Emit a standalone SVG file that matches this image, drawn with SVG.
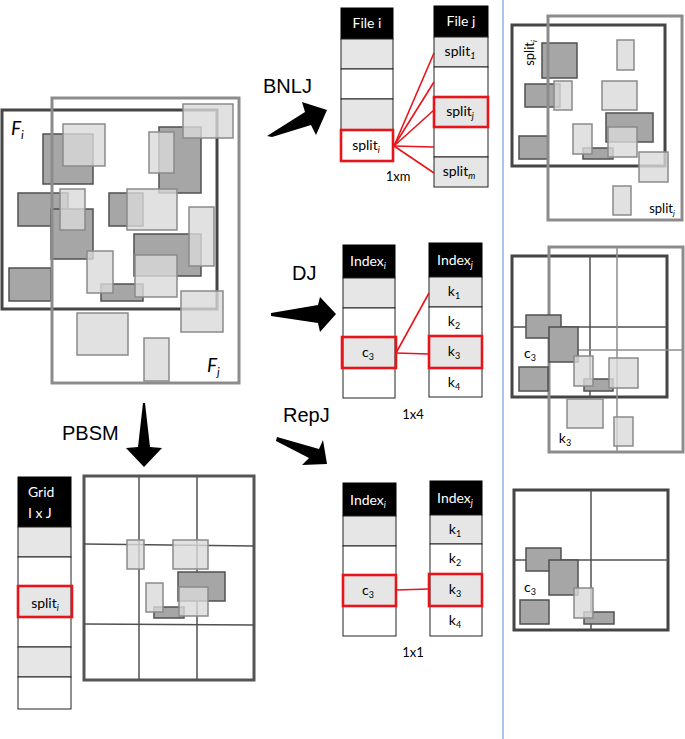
<svg xmlns="http://www.w3.org/2000/svg" width="685" height="739" viewBox="0 0 685 739">
<style>
.lbl{font-family:"Liberation Sans",Arial,sans-serif;font-size:20px;fill:#000}
.t{font-family:Lato,"Liberation Sans",sans-serif;font-size:14px;fill:#000;text-anchor:middle}
.th{font-family:Lato,"Liberation Sans",sans-serif;font-size:14px;fill:#fff;text-anchor:middle}
.small{font-family:Lato,"Liberation Sans",sans-serif;font-size:13px;fill:#000;text-anchor:middle}
.hd{fill:#000;stroke:#000;stroke-width:1}
.cg{fill:#e6e6e6;stroke:#222;stroke-width:1}
.cw{fill:#fff;stroke:#222;stroke-width:1}
.red{fill:none;stroke:#e8141b;stroke-width:2.6}
.rl{stroke:#e8141b;stroke-width:1.6;fill:none}
.dk{fill:#a6a6a6;stroke:#505050;stroke-width:1.5}
.lt{fill:#d9d9d9;fill-opacity:0.8;stroke:#8a8a8a;stroke-width:1.5}
.bd{fill:none;stroke:#454545;stroke-width:3}
.bg{fill:none;stroke:#8c8c8c;stroke-width:3}
.gd{stroke:#505050;stroke-width:1.5;fill:none}
.gg{stroke:#8c8c8c;stroke-width:1.5;fill:none}
.arr{fill:#000}
</style>
<rect width="685" height="739" fill="#fff"/>
<line x1="503" y1="0" x2="503" y2="739" stroke="#5b8bc9" stroke-width="1"/>

<g id="overview">
<rect class="bd" x="2" y="110" width="215" height="199"/>
<rect class="dk" x="43" y="134" width="50" height="50"/>
<rect class="dk" x="159" y="127" width="42" height="66"/>
<rect class="dk" x="18" y="193" width="50" height="33"/>
<rect class="dk" x="51" y="209" width="42" height="50"/>
<rect class="dk" x="109" y="193" width="34" height="33"/>
<rect class="dk" x="134" y="234" width="67" height="42"/>
<rect class="dk" x="9" y="268" width="42" height="33"/>
<rect class="dk" x="101" y="284" width="42" height="17"/>
<rect class="bg" x="52" y="98" width="187" height="285"/>
<rect class="lt" x="63" y="124" width="42" height="42"/>
<rect class="lt" x="149" y="132" width="25" height="41"/>
<rect class="lt" x="183" y="104" width="50" height="34"/>
<rect class="lt" x="60" y="189" width="25" height="41"/>
<rect class="lt" x="127" y="189" width="50" height="41"/>
<rect class="lt" x="189" y="207" width="25" height="59"/>
<rect class="lt" x="87" y="251" width="26" height="42"/>
<rect class="lt" x="135" y="255" width="42" height="42"/>
<rect class="lt" x="181" y="291" width="42" height="41"/>
<rect class="lt" x="77" y="313" width="51" height="42"/>
<rect class="lt" x="144" y="338" width="25" height="43"/>
<text x="11" y="135" font-family="Lato,'Liberation Sans',sans-serif" font-size="19" font-style="italic">F<tspan font-size="12" dy="4">i</tspan></text>
<text x="207" y="372" font-family="Lato,'Liberation Sans',sans-serif" font-size="19" font-style="italic">F<tspan font-size="12" dy="4">j</tspan></text>
</g>

<g id="labels">
<text class="lbl" x="263" y="93">BNLJ</text>
<text class="lbl" x="292" y="280">DJ</text>
<text class="lbl" x="283" y="422">RepJ</text>
<text class="lbl" x="62" y="440">PBSM</text>
<text class="small" x="398" y="181">1xm</text>
<text class="small" x="413" y="419">1x4</text>
<text class="small" x="413" y="657">1x1</text>
</g>

<g id="file-i">
<rect class="hd" x="341" y="8" width="52" height="31"/>
<text class="th" x="367" y="28">File i</text>
<rect class="cg" x="341" y="39" width="52" height="30"/>
<rect class="cw" x="341" y="69" width="52" height="30"/>
<rect class="cg" x="341" y="99" width="52" height="31"/>
<rect class="cw" x="341" y="130" width="52" height="31"/>
<rect class="red" x="341" y="130" width="52" height="31"/>
<text class="t" x="366" y="150">split<tspan font-size="9" dy="3" font-style="italic">i</tspan></text>
</g>

<g id="file-j">
<rect class="hd" x="434" y="6" width="54" height="31"/>
<text class="th" x="461" y="26">File j</text>
<rect class="cg" x="434" y="37" width="54" height="30"/>
<rect class="cw" x="434" y="67" width="54" height="30"/>
<rect class="cg" x="434" y="97" width="54" height="30"/>
<rect class="cw" x="434" y="127" width="54" height="30"/>
<rect class="cg" x="434" y="157" width="54" height="30"/>
<rect class="red" x="434" y="97" width="54" height="30"/>
<text class="t" x="460" y="56">split<tspan font-size="9" dy="3" font-style="italic">1</tspan></text>
<text class="t" x="460" y="116">split<tspan font-size="9" dy="3" font-style="italic">j</tspan></text>
<text class="t" x="459" y="176">split<tspan font-size="9" dy="3" font-style="italic">m</tspan></text>
</g>

<g id="dj-index-i">
<rect class="hd" x="343" y="245" width="52" height="33"/>
<text class="th" x="368" y="266">Index<tspan font-size="9" dy="3" font-style="italic">i</tspan></text>
<rect class="cg" x="343" y="278" width="52" height="30"/>
<rect class="cw" x="343" y="308" width="52" height="29"/>
<rect class="cg" x="343" y="337" width="52" height="31"/>
<rect class="cw" x="343" y="368" width="52" height="30"/>
<rect class="red" x="342" y="337" width="54" height="31"/>
<text class="t" x="368" y="357">c<tspan font-size="9" dy="3">3</tspan></text>
</g>

<g id="dj-index-j">
<rect class="hd" x="429" y="243" width="53" height="34"/>
<text class="th" x="455" y="265">Index<tspan font-size="9" dy="3" font-style="italic">j</tspan></text>
<rect class="cg" x="429" y="277" width="53" height="30"/>
<rect class="cw" x="429" y="307" width="53" height="29"/>
<rect class="cg" x="429" y="336" width="53" height="32"/>
<rect class="cw" x="429" y="368" width="53" height="29"/>
<rect class="red" x="429" y="336" width="53" height="32"/>
<text class="t" x="454" y="296">k<tspan font-size="9" dy="3">1</tspan></text>
<text class="t" x="454" y="326">k<tspan font-size="9" dy="3">2</tspan></text>
<text class="t" x="454" y="356">k<tspan font-size="9" dy="3">3</tspan></text>
<text class="t" x="454" y="387">k<tspan font-size="9" dy="3">4</tspan></text>
</g>

<g id="repj-index-i">
<rect class="hd" x="343" y="483" width="53" height="33"/>
<text class="th" x="368" y="505">Index<tspan font-size="9" dy="3" font-style="italic">i</tspan></text>
<rect class="cg" x="343" y="516" width="53" height="30"/>
<rect class="cw" x="343" y="546" width="53" height="29"/>
<rect class="cg" x="343" y="575" width="53" height="31"/>
<rect class="cw" x="343" y="606" width="53" height="30"/>
<rect class="red" x="343" y="575" width="53" height="31"/>
<text class="t" x="368" y="595">c<tspan font-size="9" dy="3">3</tspan></text>
</g>

<g id="repj-index-j">
<rect class="hd" x="430" y="481" width="52" height="34"/>
<text class="th" x="455" y="503">Index<tspan font-size="9" dy="3" font-style="italic">j</tspan></text>
<rect class="cg" x="430" y="515" width="52" height="29"/>
<rect class="cw" x="430" y="544" width="52" height="30"/>
<rect class="cg" x="430" y="574" width="52" height="32"/>
<rect class="cw" x="430" y="606" width="52" height="30"/>
<rect class="red" x="429" y="574" width="53" height="32"/>
<text class="t" x="455" y="534">k<tspan font-size="9" dy="3">1</tspan></text>
<text class="t" x="455" y="563">k<tspan font-size="9" dy="3">2</tspan></text>
<text class="t" x="455" y="594">k<tspan font-size="9" dy="3">3</tspan></text>
<text class="t" x="455" y="625">k<tspan font-size="9" dy="3">4</tspan></text>
</g>

<g id="grid-table">
<rect class="hd" x="18" y="477" width="53" height="50"/>
<text class="th" x="28" y="497" style="text-anchor:start">Grid</text>
<text class="th" x="28" y="518" style="text-anchor:start">I x J</text>
<rect class="cg" x="18" y="527" width="53" height="30"/>
<rect class="cw" x="18" y="557" width="53" height="29"/>
<rect class="cg" x="18" y="586" width="53" height="31"/>
<rect class="cw" x="18" y="617" width="53" height="30"/>
<rect class="cg" x="18" y="647" width="53" height="30"/>
<rect class="cw" x="18" y="677" width="53" height="32"/>
<rect class="red" x="18" y="586" width="54" height="31"/>
<text class="t" x="45" y="608">split<tspan font-size="9" dy="3" font-style="italic">i</tspan></text>
</g>

<g id="pbsm-grid">
<rect x="84" y="476" width="170" height="204" fill="#fff" stroke="#555" stroke-width="3"/>
<line class="gd" x1="139" y1="476" x2="139" y2="680"/>
<line class="gd" x1="197" y1="476" x2="197" y2="681"/>
<line class="gd" x1="84" y1="544" x2="254" y2="546"/>
<line class="gd" x1="84" y1="624" x2="254" y2="625"/>
<rect class="lt" x="127" y="540" width="17" height="29"/>
<rect class="lt" x="173" y="540" width="35" height="29"/>
<rect class="dk" x="178" y="572" width="47" height="29"/>
<rect class="dk" x="154" y="607" width="30" height="11"/>
<rect class="lt" x="146" y="583" width="17" height="29"/>
<rect class="lt" x="179" y="587" width="29" height="29"/>
</g>

<g id="panel-bnlj">
<rect class="bd" x="512" y="25" width="153" height="141"/>
<rect class="dk" x="542" y="43" width="35" height="35"/>
<rect class="dk" x="525" y="84" width="35" height="23"/>
<rect class="dk" x="519" y="136" width="29" height="23"/>
<rect class="dk" x="606" y="113" width="47" height="29"/>
<rect class="dk" x="583" y="148" width="30" height="11"/>
<rect class="bg" x="548" y="16" width="134" height="204"/>
<rect class="lt" x="617" y="40" width="17" height="30"/>
<rect class="lt" x="554" y="81" width="18" height="29"/>
<rect class="lt" x="602" y="81" width="35" height="29"/>
<rect class="lt" x="573" y="124" width="19" height="30"/>
<rect class="lt" x="608" y="127" width="29" height="30"/>
<rect class="lt" x="639" y="152" width="29" height="30"/>
<rect class="lt" x="613" y="186" width="18" height="29"/>
<text class="small" transform="translate(534 53) rotate(-90)" x="0" y="0">split<tspan font-size="8" dy="3" font-style="italic">i</tspan></text>
<text class="small" x="662" y="213">split<tspan font-size="8" dy="3" font-style="italic">j</tspan></text>
</g>

<g id="panel-dj">
<rect class="bd" x="512" y="256" width="155" height="141"/>
<line class="gd" x1="590" y1="256" x2="590" y2="397"/>
<line class="gd" x1="512" y1="327" x2="667" y2="327"/>
<rect class="bg" x="549" y="247" width="134" height="205"/>
<line class="gg" x1="617" y1="247" x2="617" y2="452"/>
<line class="gg" x1="549" y1="350" x2="683" y2="350"/>
<rect class="dk" x="526" y="315" width="35" height="23"/>
<rect class="dk" x="549" y="327" width="29" height="35"/>
<rect class="dk" x="519" y="367" width="29" height="24"/>
<rect class="dk" x="584" y="379" width="29" height="12"/>
<rect class="lt" x="574" y="356" width="19" height="30"/>
<rect class="lt" x="609" y="358" width="29" height="30"/>
<rect class="lt" x="567" y="399" width="36" height="29"/>
<rect class="lt" x="614" y="417" width="19" height="29"/>
<text class="t" x="530" y="358">c<tspan font-size="9" dy="3">3</tspan></text>
<text class="t" x="565" y="443">k<tspan font-size="9" dy="3">3</tspan></text>
</g>

<g id="panel-repj">
<rect class="bd" x="514" y="490" width="154" height="140"/>
<line class="gd" x1="591" y1="490" x2="591" y2="630"/>
<line class="gd" x1="514" y1="560" x2="668" y2="560"/>
<rect class="dk" x="526" y="548" width="35" height="23"/>
<rect class="dk" x="549" y="560" width="29" height="35"/>
<rect class="dk" x="520" y="600" width="29" height="24"/>
<rect class="dk" x="584" y="612" width="30" height="12"/>
<rect class="lt" x="574" y="588" width="19" height="30"/>
<text class="t" x="530" y="592">c<tspan font-size="9" dy="3">3</tspan></text>
</g>

<g id="connectors">
<polygon class="arr" points="267,136 305,112 302,102 327,110 316,135 311,125 272,137"/>
<polygon class="arr" points="271,313 318,305 320,297 336,314 320,332 318,323 271,316"/>
<polygon class="arr" points="277,437 319,449 323,440 327,464 302,465 309,458 276,441"/>
<polygon class="arr" points="143,403 145,403 150,447 162,448 144,467 126,448 138,447"/>
<line class="rl" x1="394" y1="146" x2="434" y2="53"/>
<line class="rl" x1="394" y1="146" x2="434" y2="82"/>
<line class="rl" x1="394" y1="146" x2="434" y2="110"/>
<line class="rl" x1="394" y1="146" x2="434" y2="147"/>
<line class="rl" x1="394" y1="146" x2="434" y2="173"/>
<line class="rl" x1="396" y1="353" x2="429" y2="293"/>
<line class="rl" x1="396" y1="353" x2="429" y2="354"/>
<line class="rl" x1="396" y1="590" x2="429" y2="589"/>
</g>
</svg>
